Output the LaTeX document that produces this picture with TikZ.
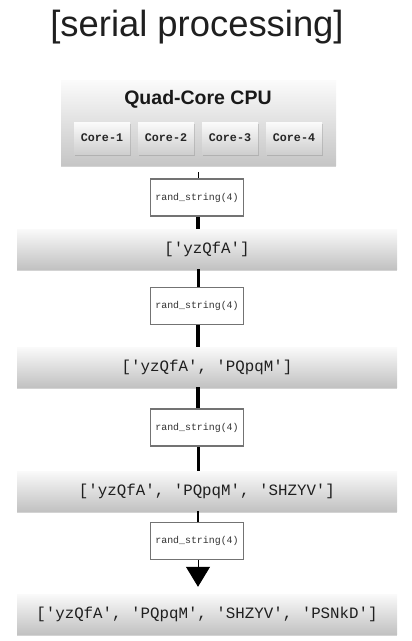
\documentclass[tikz,border=0pt]{standalone}
\usepackage{fontspec}
\setmainfont{Liberation Sans}
\newfontfamily\codefont{Liberation Mono}
\usetikzlibrary{shadows,arrows.meta}
\begin{document}
\begin{tikzpicture}[x=1pt,y=1pt,
  bar/.style={minimum width=380pt,minimum height=40pt,inner sep=0pt,
    top color=gray!4,bottom color=gray!48,
    drop shadow={opacity=0.35,shadow xshift=0pt,shadow yshift=-1.5pt},
    font=\codefont\fontsize{15.8}{18}\selectfont,text=black!88},
  rbox/.style={draw=black!55,line width=1.8pt,fill=white,minimum width=93pt,minimum height=37pt,inner sep=0pt,
    font=\codefont\fontsize{9.9}{12}\selectfont,text=black!80},
  corebox/.style={minimum width=56pt,minimum height=32pt,inner sep=0pt,
    top color=gray!3,bottom color=gray!38,
    drop shadow={opacity=0.35,shadow xshift=0.5pt,shadow yshift=-1.5pt},
    font=\codefont\bfseries\fontsize{11.7}{14}\selectfont,text=black!85},
  conn/.style={draw=black,line width=#1},
  conn/.default=3.5pt]
\useasboundingbox (0,0) rectangle (412,-641);
\node[font=\fontsize{36.4}{40}\selectfont,text=black!88] (title) at (197,-27) {[serial processing]};
\node[minimum width=275pt,minimum height=85pt,inner sep=0pt,
  top color=gray!3,bottom color=gray!45,
  drop shadow={opacity=0.35,shadow xshift=0pt,shadow yshift=-2pt}] (cpu) at (198.5,-122.5) {};
\node[font=\bfseries\fontsize{19.5}{22}\selectfont,text=black!90] (cpulabel) at (198,-99) {Quad-Core CPU};
\node[corebox] (c1) at (102,-138) {Core-1};
\node[corebox] (c2) at (166,-138) {Core-2};
\node[corebox] (c3) at (230,-138) {Core-3};
\node[corebox] (c4) at (294,-138) {Core-4};
% connectors (drawn first so boxes sit on top)
\coordinate (cpuout) at (198,-172);
\node[bar] (b1) at (207,-249) {['yzQfA']};
\node[bar] (b2) at (207,-367) {['yzQfA', 'PQpqM']};
\node[bar] (b3) at (207,-491) {['yzQfA', 'PQpqM', 'SHZYV']};
\node[bar] (b4) at (207,-614) {['yzQfA', 'PQpqM', 'SHZYV', 'PSNkD']};
\node[rbox] (r1) at (197,-197.5) {rand\_string(4)};
\node[rbox] (r2) at (197,-306) {rand\_string(4)};
\node[rbox] (r3) at (197,-427.5) {rand\_string(4)};
\node[rbox] (r4) at (197,-541) {rand\_string(4)};
\draw[conn=0.6pt] (cpuout) -- (r1.north -| cpuout);
\draw[conn=4pt] (r1.south -| cpuout) -- (b1.north -| cpuout);
\draw[conn=3pt] (b1.south -| cpuout) -- (r2.north -| cpuout);
\draw[conn=4pt] (r2.south -| cpuout) -- (b2.north -| cpuout);
\draw[conn=4pt] (b2.south -| cpuout) -- (r3.north -| cpuout);
\draw[conn=3pt] (r3.south -| cpuout) -- (b3.north -| cpuout);
\draw[conn=2pt] (b3.south -| cpuout) -- (r4.north -| cpuout);
\draw[conn=0.8pt,-{Triangle[width=24pt,length=20pt]},shorten >=7pt] (r4.south -| cpuout) -- (b4.north -| cpuout);
\end{tikzpicture}
\end{document}
